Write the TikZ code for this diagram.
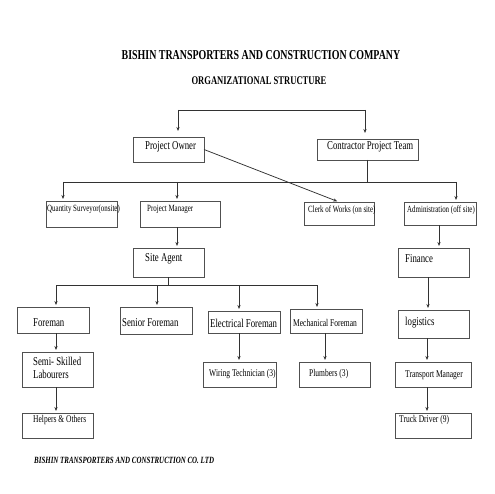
\documentclass[tikz,border=0pt]{standalone}
\usepackage{fontspec}
\setmainfont{Liberation Serif}[FakeStretch=0.73]
\usetikzlibrary{arrows.meta,calc}
\definecolor{boxc}{RGB}{80,80,80}
\definecolor{linec}{RGB}{50,50,50}
\tikzset{
  box/.style={draw=boxc, line width=0.8pt, inner sep=0pt, outer sep=0pt},
  txt/.style={anchor=west, inner sep=0pt, text=black},
  conn/.style={draw=linec, line width=0.75pt},
  arr/.style={conn, -{Stealth[length=4pt,width=3.2pt]}, shorten >=2pt},
  fL/.style={font=\fontsize{12}{13.5}\selectfont},
  fM/.style={font=\fontsize{10.3}{11.5}\selectfont},
  fS/.style={font=\fontsize{9.5}{11}\selectfont},
}
\newcommand\bx[5]{\node[box,minimum width={#4-#2},minimum height={#5-#3}] (#1) at ({(#2+#4)/2},{(#3+#5)/2}) {};}
\begin{document}
\begin{tikzpicture}[x=1pt,y=-1pt]
\useasboundingbox[fill=white] (0,0) rectangle (494,494);
% titles
\node[inner sep=0pt, font=\fontsize{13.6}{15}\selectfont\bfseries] (title) at (261,55) {BISHIN TRANSPORTERS AND CONSTRUCTION COMPANY};
\node[inner sep=0pt, font=\fontsize{11.7}{13}\selectfont\bfseries] (sub) at (259,81) {ORGANIZATIONAL STRUCTURE};
\node[txt, font=\fontsize{9.5}{11}\selectfont\bfseries\itshape] (foot) at (34,460) {BISHIN TRANSPORTERS AND CONSTRUCTION CO. LTD};
% boxes
\bx{po}{133}{137}{204}{162}
\bx{cpt}{317}{139}{418}{160}
\bx{qs}{46}{201}{117}{227}
\bx{pm}{140}{201}{220}{227}
\bx{clerk}{304}{202}{374}{225}
\bx{admin}{404}{202}{476}{225}
\bx{sa}{133}{248}{204}{277}
\bx{fin}{398}{248}{469}{277}
\bx{fm}{17}{307}{89}{333}
\bx{sf}{120}{307}{192}{334}
\bx{ef}{208}{311}{280}{333}
\bx{mf}{290}{309}{362}{333}
\bx{lg}{398}{310}{469}{338}
\bx{ss}{22}{352}{93}{387}
\bx{wt}{203}{362}{276}{387}
\bx{pl}{299}{362}{370}{387}
\bx{tm}{395}{362}{471}{387}
\bx{hp}{22}{413}{93}{438}
\bx{td}{395}{413}{471}{438}
% texts
\node[txt,fL] (po-t) at (145,147) {Project Owner};
\node[txt,fL] (cpt-t) at (327,147) {Contractor Project Team};
\node[txt,fS] (qs-t) at (47,209) {Quantity Surveyor(onsite)};
\node[txt,fS] (pm-t) at (147,209) {Project Manager};
\node[txt,fS] (clerk-t) at (308,210) {Clerk of Works (on site)};
\node[txt,fS] (admin-t) at (407,210) {Administration (off site)};
\node[txt,fL] (sa-t) at (145,259) {Site Agent};
\node[txt,fL] (fin-t) at (405,259) {Finance};
\node[txt,fL] (fm-t) at (33,323) {Foreman};
\node[txt,fL] (sf-t) at (122,323) {Senior Foreman};
\node[txt,fL] (ef-t) at (210,323) {Electrical Foreman};
\node[txt,fM] (mf-t) at (293,323) {Mechanical Foreman};
\node[txt,fL] (lg-t) at (405,323) {logistics};
\node[txt,fL,align=left] (ss-t) at (33,368) {Semi- Skilled\\Labourers};
\node[txt,fM] (wt-t) at (209,374) {Wiring Technician (3)};
\node[txt,fM] (pl-t) at (309,374) {Plumbers (3)};
\node[txt,fM] (tm-t) at (405,375) {Transport Manager};
\node[txt,fM] (hp-t) at (33,420) {Helpers \& Others};
\node[txt,fM] (td-t) at (399,420) {Truck Driver (9)};
% connectors
\coordinate (t1) at (178,110);
\coordinate (t2) at (365,110);
\draw[conn] (t1) -- (t2);
\draw[arr, shorten >=6pt] (t1) -- (t1 |- po.north);
\draw[arr, shorten >=6pt] (t2) -- (t2 |- cpt.north);
\draw[arr] (po.east) -- (clerk.north);
\coordinate (b1L) at (63,182);
\coordinate (b1M) at (177,182);
\coordinate (b1R) at (456,182);
\draw[conn] (cpt.south) -- (cpt.south |- b1L);
\draw[conn] (b1L) -- (b1R);
\draw[arr] (b1L) -- (b1L |- qs.north);
\draw[arr] (b1M) -- (b1M |- pm.north);
\draw[arr] (b1R) -- (b1R |- admin.north);
\draw[arr] (pm.south -| b1M) -- (sa.north -| b1M);
\coordinate (b2L) at (56,285);
\coordinate (b2a) at (157,285);
\coordinate (b2b) at (239,285);
\coordinate (b2R) at (317,285);
\draw[conn] (sa.south) -- (sa.south |- b2L);
\draw[conn] (b2L) -- (b2R);
\draw[arr] (b2L) -- (b2L |- fm.north);
\draw[arr] (b2a) -- (b2a |- sf.north);
\draw[arr] (b2b) -- (b2b |- ef.north);
\draw[arr] (b2R) -- (b2R |- mf.north);
\coordinate (xa) at (439,0);
\coordinate (xf) at (428,0);
\coordinate (xt) at (427,0);
\coordinate (xl) at (56,0);
\coordinate (xe) at (239,0);
\coordinate (xm) at (325,0);
\draw[arr] (admin.south -| xa) -- (fin.north -| xa);
\draw[arr] (fin.south -| xf) -- (lg.north -| xf);
\draw[arr] (lg.south -| xt) -- (tm.north -| xt);
\draw[arr] (tm.south -| xt) -- (td.north -| xt);
\draw[arr] (fm.south -| xl) -- (ss.north -| xl);
\draw[arr] (ss.south -| xl) -- (hp.north -| xl);
\draw[arr] (ef.south -| xe) -- (wt.north -| xe);
\draw[arr] (mf.south -| xm) -- (pl.north -| xm);
\end{tikzpicture}
\end{document}
